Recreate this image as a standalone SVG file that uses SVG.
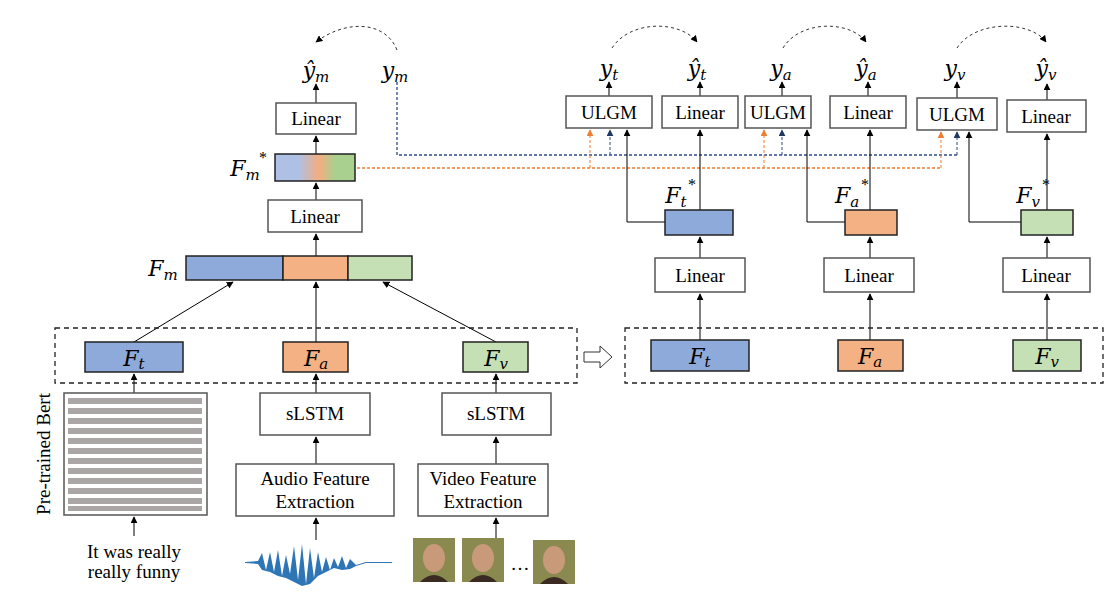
<svg xmlns="http://www.w3.org/2000/svg" width="1118" height="594" viewBox="0 0 1118 594">
<defs>
<marker id="ah" viewBox="0 0 10 10" refX="9" refY="5" markerWidth="7" markerHeight="7" orient="auto"><path d="M0,0L10,5L0,10z" fill="#000"/></marker>
<marker id="ao" viewBox="0 0 10 10" refX="9" refY="5" markerWidth="7" markerHeight="7" orient="auto"><path d="M0,0L10,5L0,10z" fill="#ed7d31"/></marker>
<marker id="ab" viewBox="0 0 10 10" refX="9" refY="5" markerWidth="7" markerHeight="7" orient="auto"><path d="M0,0L10,5L0,10z" fill="#1f3864"/></marker>
<linearGradient id="gm" x1="0" x2="1"><stop offset="0.3" stop-color="#aec0e3"/><stop offset="0.55" stop-color="#f4ad80"/><stop offset="0.75" stop-color="#a9d08e"/></linearGradient>
</defs>
<style>
.b{fill:#fff;stroke:#555;stroke-width:1.5}
.t{font-family:"Liberation Serif",serif;font-size:19px;text-anchor:middle}
.m{font-family:"DejaVu Serif","Liberation Serif",serif;font-style:italic;font-size:22px;text-anchor:middle}
.s{font-size:15px}
.st{font-family:"Liberation Serif",serif;font-size:16px}
.l{stroke:#000;stroke-width:1;fill:none}
.blue{fill:#8eaadb;stroke:#222;stroke-width:1.5}
.or{fill:#f4b183;stroke:#222;stroke-width:1.5}
.gr{fill:#c5e0b4;stroke:#222;stroke-width:1.5}
.dash{fill:none;stroke:#222;stroke-width:1.3;stroke-dasharray:5,4}
.bar{fill:#aaa6a6}
</style>
<g id="connectors">
<path class="l" d="M316,103V84" marker-end="url(#ah)"/>
<path class="l" d="M316,154V136" marker-end="url(#ah)"/>
<path class="l" d="M316,200V183" marker-end="url(#ah)"/>
<path class="l" d="M316,256V234" marker-end="url(#ah)"/>
<path class="l" d="M134,342L233,282" marker-end="url(#ah)"/>
<path class="l" d="M316,342V282" marker-end="url(#ah)"/>
<path class="l" d="M496,342L383,282" marker-end="url(#ah)"/>
<path class="l" d="M134,393V374" marker-end="url(#ah)"/>
<path class="l" d="M316,393V374" marker-end="url(#ah)"/>
<path class="l" d="M496,393V374" marker-end="url(#ah)"/>
<path class="l" d="M316,464V437" marker-end="url(#ah)"/>
<path class="l" d="M496,464V437" marker-end="url(#ah)"/>
<path class="l" d="M316,540V518" marker-end="url(#ah)"/>
<path class="l" d="M496,540V518" marker-end="url(#ah)"/>
<path class="l" d="M134,536V517" marker-end="url(#ah)"/>
<path d="M397,50C385,20 345,20 316,42" fill="none" stroke="#333" stroke-dasharray="3,3" marker-end="url(#ah)"/>
<path d="M612,48C630,20 680,20 697,42" fill="none" stroke="#333" stroke-dasharray="3,3" marker-end="url(#ah)"/>
<path d="M783,48C800,20 850,20 866,42" fill="none" stroke="#333" stroke-dasharray="3,3" marker-end="url(#ah)"/>
<path d="M957,48C975,20 1030,20 1046,42" fill="none" stroke="#333" stroke-dasharray="3,3" marker-end="url(#ah)"/>
<path d="M397,82V155H957" fill="none" stroke="#2f4a8a" stroke-width="1.3" stroke-dasharray="3,2"/>
<path d="M357,168H941" fill="none" stroke="#ed7d31" stroke-width="1.3" stroke-dasharray="3,2"/>
<path d="M590,168V130" stroke="#ed7d31" stroke-dasharray="3,2" marker-end="url(#ao)"/>
<path d="M764,168V130" stroke="#ed7d31" stroke-dasharray="3,2" marker-end="url(#ao)"/>
<path d="M941,168V132" stroke="#ed7d31" stroke-dasharray="3,2" marker-end="url(#ao)"/>
<path d="M610,155V130" stroke="#2f4a8a" stroke-dasharray="3,2" marker-end="url(#ab)"/>
<path d="M782,155V130" stroke="#2f4a8a" stroke-dasharray="3,2" marker-end="url(#ab)"/>
<path d="M957,155V132" stroke="#2f4a8a" stroke-dasharray="3,2" marker-end="url(#ab)"/>
<path class="l" d="M665,222H627V130" marker-end="url(#ah)"/>
<path class="l" d="M845,222H807V130" marker-end="url(#ah)"/>
<path class="l" d="M1021,222H969V132" marker-end="url(#ah)"/>
<path class="l" d="M700,210V130" marker-end="url(#ah)"/>
<path class="l" d="M870,210V130" marker-end="url(#ah)"/>
<path class="l" d="M1047,210V134" marker-end="url(#ah)"/>
<path class="l" d="M609,96V82" marker-end="url(#ah)"/>
<path class="l" d="M700,96V82" marker-end="url(#ah)"/>
<path class="l" d="M782,96V82" marker-end="url(#ah)"/>
<path class="l" d="M868,96V82" marker-end="url(#ah)"/>
<path class="l" d="M957,98V82" marker-end="url(#ah)"/>
<path class="l" d="M1047,100V84" marker-end="url(#ah)"/>
<path class="l" d="M700,258V237" marker-end="url(#ah)"/>
<path class="l" d="M870,258V237" marker-end="url(#ah)"/>
<path class="l" d="M1047,258V237" marker-end="url(#ah)"/>
<path class="l" d="M700,340V294" marker-end="url(#ah)"/>
<path class="l" d="M870,340V294" marker-end="url(#ah)"/>
<path class="l" d="M1047,340V294" marker-end="url(#ah)"/>
<path d="M584,352H600V346L612,357L600,368V362H584z" fill="#fff" stroke="#333"/>
</g>
<g id="left-top">
<text class="m" x="316" y="78">ŷ<tspan class="s" dy="4">m</tspan></text>
<text class="m" x="395" y="78">y<tspan class="s" dy="4">m</tspan></text>
<rect class="b" x="276" y="103" width="80" height="31"/><text class="t" x="316" y="125">Linear</text>
<rect x="275" y="154" width="80" height="27" fill="url(#gm)" stroke="#222" stroke-width="1.5"/>
<text class="m" x="245" y="176">F<tspan class="s" dy="4">m</tspan></text><text class="st" x="259" y="163">*</text>
<rect class="b" x="268" y="200" width="94" height="32"/><text class="t" x="315" y="223">Linear</text>
<text class="m" x="163" y="276">F<tspan class="s" dy="4">m</tspan></text>
<rect class="blue" x="186" y="256" width="97" height="24"/><rect class="or" x="283" y="256" width="65" height="24"/><rect class="gr" x="348" y="256" width="64" height="24"/>
</g>
<g id="left-features">
<rect class="dash" x="55" y="328" width="522" height="55"/>
<rect class="blue" x="85" y="342" width="98" height="30"/><text class="m" x="134" y="366">F<tspan class="s" dy="3">t</tspan></text>
<rect class="or" x="283" y="342" width="65" height="30"/><text class="m" x="316" y="366">F<tspan class="s" dy="3">a</tspan></text>
<rect class="gr" x="463" y="342" width="65" height="30"/><text class="m" x="496" y="366">F<tspan class="s" dy="3">v</tspan></text>
</g>
<g id="bert">
<rect class="b" x="64" y="393" width="143" height="122"/>
<rect class="bar" x="68" y="398" width="134" height="6"/><rect class="bar" x="68" y="408" width="134" height="6"/><rect class="bar" x="68" y="418" width="134" height="6"/><rect class="bar" x="68" y="428" width="134" height="6"/><rect class="bar" x="68" y="438" width="134" height="6"/><rect class="bar" x="68" y="448" width="134" height="6"/><rect class="bar" x="68" y="458" width="134" height="6"/><rect class="bar" x="68" y="468" width="134" height="6"/><rect class="bar" x="68" y="478" width="134" height="6"/><rect class="bar" x="68" y="488" width="134" height="6"/><rect class="bar" x="68" y="498" width="134" height="6"/><rect class="bar" x="68" y="506" width="134" height="5"/>
<text class="t" x="0" y="0" font-size="16" transform="translate(50,454) rotate(-90)">Pre-trained  Bert</text>
<text class="t" x="134" y="558" font-size="16">It was really</text>
<text class="t" x="134" y="578" font-size="16">really  funny</text>
</g>
<g id="audio">
<rect class="b" x="260" y="393" width="110" height="42"/><text class="t" x="315" y="420">sLSTM</text>
<rect class="b" x="236" y="464" width="158" height="52"/><text class="t" x="315" y="485">Audio Feature</text><text class="t" x="315" y="508">Extraction</text>
<path d="M245,562 L258,561 262,553 266,570 270,552 274,572 278,550 282,576 286,555 290,574 294,546 298,580 302,544 306,584 310,548 314,578 318,552 322,572 326,557 330,570 334,558 338,567 342,556 346,568 350,559 356,565 366,562 392,562 L392,563 366,563 356,566 350,569 342,570 334,568 326,572 318,576 310,584 302,586 294,582 286,578 278,576 270,572 262,570 258,564 245,563z" fill="#2e75b6"/>
</g>
<g id="video">
<rect class="b" x="442" y="393" width="109" height="42"/><text class="t" x="496" y="420">sLSTM</text>
<rect class="b" x="418" y="464" width="130" height="52"/><text class="t" x="483" y="485">Video Feature</text><text class="t" x="483" y="508">Extraction</text>
<g><rect x="413" y="538" width="42" height="44" fill="#8a8a50"/><ellipse cx="434" cy="558" rx="11" ry="14" fill="#c89a7a"/><path d="M420,582Q434,568 448,582z" fill="#3a2a22"/></g>
<g><rect x="462" y="538" width="42" height="44" fill="#8a8a50"/><ellipse cx="483" cy="558" rx="11" ry="14" fill="#c89a7a"/><path d="M469,582Q483,568 497,582z" fill="#3a2a22"/></g>
<text class="t" x="520" y="570">…</text>
<g><rect x="533" y="540" width="42" height="44" fill="#8a8a50"/><ellipse cx="554" cy="560" rx="11" ry="14" fill="#c89a7a"/><path d="M540,584Q554,570 568,584z" fill="#3a2a22"/></g>
</g>
<g id="right-t">
<text class="m" x="609" y="76">y<tspan class="s" dy="4">t</tspan></text>
<text class="m" x="697" y="76">ŷ<tspan class="s" dy="4">t</tspan></text>
<rect class="b" x="566" y="96" width="86" height="32"/><text class="t" x="609" y="119">ULGM</text>
<rect class="b" x="662" y="96" width="76" height="32"/><text class="t" x="700" y="119">Linear</text>
<text class="m" x="676" y="203">F<tspan class="s" dy="4">t</tspan></text><text class="st" x="688" y="190">*</text>
<rect class="blue" x="665" y="210" width="68" height="25"/>
<rect class="b" x="655" y="258" width="90" height="34"/><text class="t" x="700" y="282">Linear</text>
</g>
<g id="right-a">
<text class="m" x="781" y="76">y<tspan class="s" dy="4">a</tspan></text>
<text class="m" x="866" y="76">ŷ<tspan class="s" dy="4">a</tspan></text>
<rect class="b" x="745" y="96" width="66" height="32"/><text class="t" x="778" y="119">ULGM</text>
<rect class="b" x="830" y="96" width="76" height="32"/><text class="t" x="868" y="119">Linear</text>
<text class="m" x="847" y="203">F<tspan class="s" dy="4">a</tspan></text><text class="st" x="861" y="190">*</text>
<rect class="or" x="845" y="210" width="52" height="25"/>
<rect class="b" x="824" y="258" width="90" height="34"/><text class="t" x="869" y="282">Linear</text>
</g>
<g id="right-v">
<text class="m" x="955" y="76">y<tspan class="s" dy="4">v</tspan></text>
<text class="m" x="1046" y="76">ŷ<tspan class="s" dy="4">v</tspan></text>
<rect class="b" x="917" y="98" width="80" height="32"/><text class="t" x="957" y="121">ULGM</text>
<rect class="b" x="1007" y="100" width="79" height="32"/><text class="t" x="1046" y="123">Linear</text>
<text class="m" x="1028" y="203">F<tspan class="s" dy="4">v</tspan></text><text class="st" x="1042" y="190">*</text>
<rect class="gr" x="1021" y="210" width="52" height="25"/>
<rect class="b" x="1003" y="258" width="87" height="34"/><text class="t" x="1046" y="282">Linear</text>
</g>
<g id="right-features">
<rect class="dash" x="625" y="328" width="478" height="55"/>
<rect class="blue" x="651" y="340" width="98" height="31"/><text class="m" x="700" y="364">F<tspan class="s" dy="3">t</tspan></text>
<rect class="or" x="838" y="340" width="65" height="31"/><text class="m" x="870" y="364">F<tspan class="s" dy="3">a</tspan></text>
<rect class="gr" x="1013" y="340" width="68" height="31"/><text class="m" x="1047" y="364">F<tspan class="s" dy="3">v</tspan></text>
</g>
</svg>
